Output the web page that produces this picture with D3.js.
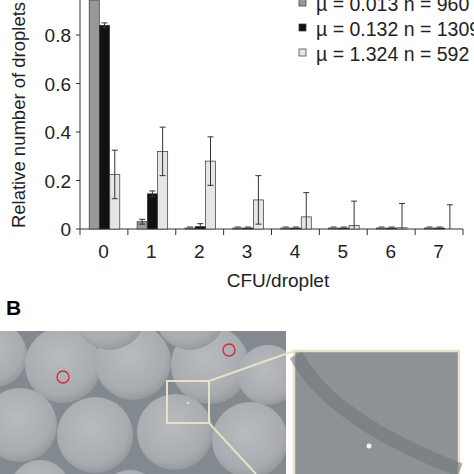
<!DOCTYPE html>
<html><head><meta charset="utf-8">
<script src="https://cdn.jsdelivr.net/npm/d3@7"></script>
<style>body{margin:0;background:#fff}svg{display:block;font-family:"Liberation Sans",Arial,sans-serif}</style>
</head><body><svg id="c" width="474" height="474"></svg>
<script>
const categories=["0","1","2","3","4","5","6","7"];
const seriesNames=["\u00b5 = 0.013 n = 960","\u00b5 = 0.132 n = 1309","\u00b5 = 1.324 n = 592"];
const seriesColors=["#999999","#111111","#e6e6e6"];
const s1=[0.987,0.03,0.004,0.004,0.004,0.004,0.004,0.004];
const s2=[0.84,0.145,0.01,0.004,0.004,0.004,0.004,0.004];
const s3=[0.225,0.32,0.28,0.12,0.05,0.015,0.005,0];
const e1=[0.01,0.01,0,0,0,0,0,0];
const e2=[0.01,0.012,0.012,0,0,0,0,0];
const e3=[0.1,0.1,0.1,0.1,0.1,0.1,0.1,0.1];
const yTicks=[0,0.2,0.4,0.6,0.8];
const svg=d3.select("#c");
const x=d3.scaleBand().domain(categories).range([80,463]).paddingInner(0).paddingOuter(0);
const inner=d3.scaleBand().domain([0,1,2]).range([9,40]).padding(0.02);
const y=d3.scaleLinear().domain([0,0.8]).range([229,35]);
const g=svg.append("g");
g.append("line").attr("x1",80).attr("x2",80).attr("y1",0).attr("y2",229).attr("stroke","#333");
yTicks.forEach(t=>{g.append("line").attr("x1",76).attr("x2",80).attr("y1",y(t)).attr("y2",y(t)).attr("stroke","#333");
 g.append("text").attr("x",71).attr("y",y(t)+7).attr("text-anchor","end").attr("font-size",19).attr("fill","#222").text(t===0?"0":t.toFixed(1));});
g.append("text").attr("transform","translate(25,115) rotate(-90)").attr("text-anchor","middle").attr("font-size",18.5).attr("fill","#222").text("Relative number of droplets");
g.append("line").attr("x1",80).attr("x2",463).attr("y1",229).attr("y2",229).attr("stroke","#333");
x.domain().concat(["end"]).forEach((c,i)=>{const xx=80+i*x.bandwidth();g.append("line").attr("x1",xx).attr("x2",xx).attr("y1",229).attr("y2",235).attr("stroke","#333");});
categories.forEach(c=>g.append("text").attr("x",x(c)+x.bandwidth()/2-0.5).attr("y",258).attr("text-anchor","middle").attr("font-size",19).attr("fill","#222").text(c));
g.append("text").attr("x",278).attr("y",287).attr("text-anchor","middle").attr("font-size",19).attr("fill","#222").text("CFU/droplet");
const vals=[s1,s2,s3],errs=[e1,e2,e3];
vals.forEach((vs,si)=>{vs.forEach((v,i)=>{const bx=x(categories[i])+inner(si),bw=inner.bandwidth();
 const top=Math.max(0,y(v));
 g.append("rect").attr("x",bx).attr("y",top).attr("width",bw).attr("height",229-top).attr("fill",seriesColors[si]).attr("stroke","#333").attr("stroke-width",0.7);
 const e=errs[si][i];const cx=bx+bw/2;
 if(e>0){const hi=y(v+e),lo=y(Math.max(0,v-e));
  g.append("line").attr("x1",cx).attr("x2",cx).attr("y1",hi).attr("y2",lo).attr("stroke","#333");
  g.append("line").attr("x1",cx-3).attr("x2",cx+3).attr("y1",hi).attr("y2",hi).attr("stroke","#333");
  if(v-e>0)g.append("line").attr("x1",cx-3).attr("x2",cx+3).attr("y1",lo).attr("y2",lo).attr("stroke","#333");}
 else if(si<2){g.append("line").attr("x1",cx-3).attr("x2",cx+3).attr("y1",y(v)-1).attr("y2",y(v)-1).attr("stroke","#333");}
});});
seriesNames.forEach((n,i)=>{const ly=3+i*25;
 g.append("rect").attr("x",299).attr("y",ly-4).attr("width",7).attr("height",7).attr("fill",seriesColors[i]).attr("stroke","#333").attr("stroke-width",0.7);
 g.append("text").attr("x",316).attr("y",ly+8).attr("font-size",19.5).attr("fill","#222").text(n);});
svg.append("text").attr("x",6).attr("y",315).attr("font-size",21).attr("font-weight","bold").text("B");
const defs=svg.append("defs");
const rg=defs.append("radialGradient").attr("id","sp").attr("cx","45%").attr("cy","40%").attr("r","60%");
rg.append("stop").attr("offset","0%").attr("stop-color","#b8bcbf");
rg.append("stop").attr("offset","80%").attr("stop-color","#a8acb0");
rg.append("stop").attr("offset","100%").attr("stop-color","#959a9e");
defs.append("clipPath").attr("id","cp").append("rect").attr("x",0).attr("y",331).attr("width",286).attr("height",143);
svg.append("rect").attr("x",0).attr("y",331).attr("width",286).attr("height",143).attr("fill","#838a8f");
const drops=[[-5,355,32],[63,365,38],[133,362,38],[210,365,39],[268,375,30],[20,425,37],[95,435,38],[175,432,38],[250,440,38],[40,490,30],[130,500,30],[215,505,30],[110,315,35],[190,315,35]];
const pg=svg.append("g").attr("clip-path","url(#cp)");
drops.forEach(d=>pg.append("circle").attr("cx",d[0]).attr("cy",d[1]).attr("r",d[2]).attr("fill","url(#sp)"));
[[63,377],[229,350]].forEach(p=>svg.append("circle").attr("cx",p[0]).attr("cy",p[1]).attr("r",6).attr("fill","none").attr("stroke","#d8252b").attr("stroke-width",1.3));
svg.append("circle").attr("cx",188).attr("cy",403).attr("r",1).attr("fill","#eee");
svg.append("rect").attr("x",294).attr("y",351).attr("width",165).attr("height",125).attr("fill","#8d9296").attr("stroke","#e8e0c8").attr("stroke-width",2.5);
svg.append("path").attr("d","M296,355 Q330,420 460,470").attr("stroke","#72787c").attr("stroke-width",14).attr("fill","none").attr("opacity",0.6);
svg.append("circle").attr("cx",369).attr("cy",446).attr("r",2.5).attr("fill","#f4f4f4");
const bc="#e8e0c8";
svg.append("rect").attr("x",167).attr("y",381).attr("width",42).attr("height",42).attr("fill","none").attr("stroke",bc).attr("stroke-width",2);
svg.append("line").attr("x1",209).attr("y1",381).attr("x2",294).attr("y2",351).attr("stroke",bc).attr("stroke-width",2);
svg.append("line").attr("x1",209).attr("y1",423).attr("x2",256).attr("y2",474).attr("stroke",bc).attr("stroke-width",2);
</script></body></html>
